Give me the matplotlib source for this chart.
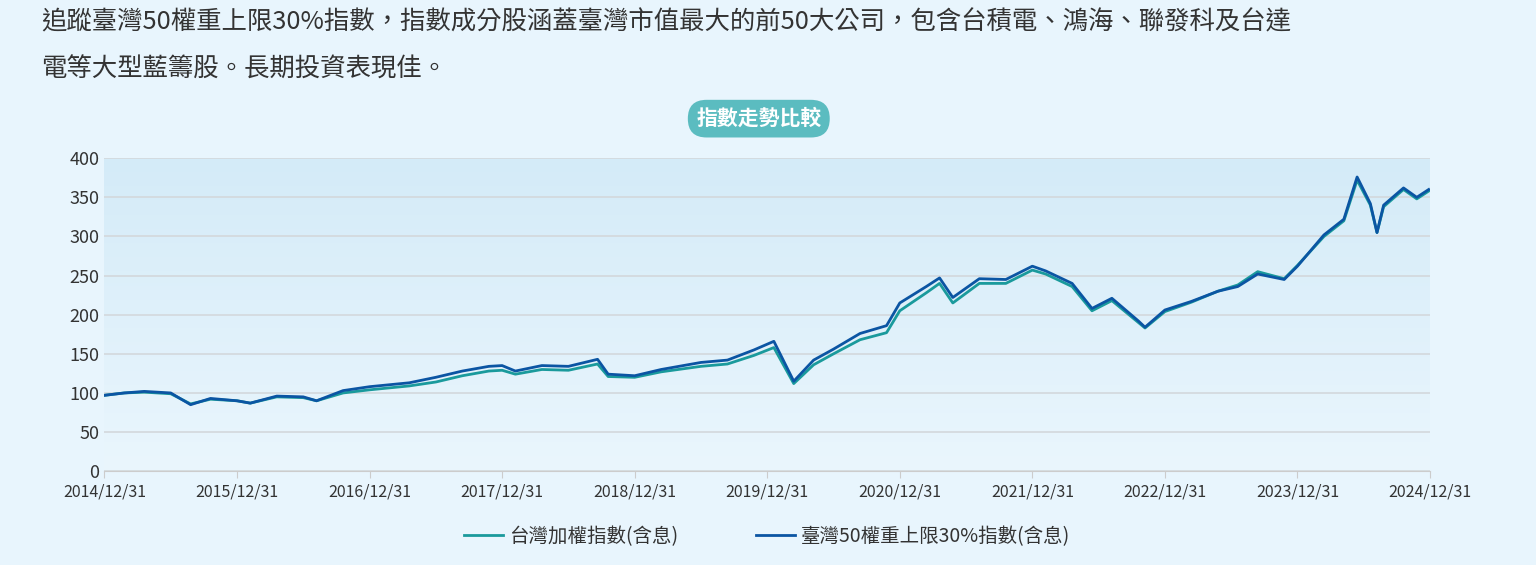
import numpy as np
import matplotlib.pyplot as plt

plt.rcParams['font.family'] = ['Noto Sans CJK TC', 'DejaVu Sans']

# 時間(年) 與 兩條指數
years = [2015.0, 2015.15, 2015.3, 2015.5, 2015.65, 2015.8, 2016.0, 2016.1, 2016.3, 2016.5,
         2016.6, 2016.8, 2017.0, 2017.3, 2017.5, 2017.7, 2017.9, 2018.0, 2018.1, 2018.3,
         2018.5, 2018.72, 2018.8, 2019.0, 2019.2, 2019.5, 2019.7, 2019.9, 2020.05, 2020.2,
         2020.35, 2020.5, 2020.7, 2020.9, 2021.0, 2021.2, 2021.3, 2021.4, 2021.6, 2021.8,
         2022.0, 2022.1, 2022.3, 2022.45, 2022.6, 2022.8, 2022.85, 2023.0, 2023.2, 2023.4,
         2023.55, 2023.7, 2023.9, 2024.0, 2024.2, 2024.35, 2024.45, 2024.55, 2024.6, 2024.65,
         2024.8, 2024.9, 2024.99]
tw50 = [97, 100, 102, 100, 85, 93, 90, 87, 96, 95,
        90, 103, 108, 113, 120, 128, 134, 135, 128, 135,
        134, 143, 124, 122, 130, 139, 142, 155, 166, 115,
        142, 156, 176, 186, 215, 236, 247, 222, 246, 245,
        262, 256, 240, 208, 221, 192, 184, 206, 217, 230,
        236, 252, 245, 262, 302, 322, 376, 342, 305, 340,
        362, 350, 360]
taiex = [97, 100, 101, 99, 86, 92, 90, 87, 95, 94,
         90, 100, 104, 109, 114, 122, 128, 129, 124, 130,
         129, 137, 121, 120, 127, 134, 137, 148, 158, 112,
         136, 150, 168, 177, 205, 228, 240, 215, 240, 240,
         257, 252, 236, 205, 218, 190, 183, 204, 216, 230,
         238, 255, 246, 263, 300, 320, 372, 340, 305, 338,
         360, 348, 358]
xticks = list(range(2015, 2026))
xlabels = [f'{y - 1}/12/31' for y in xticks]

bg = '#e8f5fd'
fig = plt.figure(figsize=(15.36, 5.65), dpi=100, facecolor=bg)
ax = fig.add_axes([0.068, 0.166, 0.863, 0.554])
ax.set_facecolor(bg)

# 漸層背景
grad = np.linspace(0, 1, 256).reshape(-1, 1)
ax.imshow(grad, extent=[2015, 2025, 0, 400], aspect='auto', origin='lower',
          cmap=plt.matplotlib.colors.LinearSegmentedColormap.from_list('g', ['#eaf6fd', '#d4ebf8']),
          zorder=0)

ax.plot(years, taiex, color='#1a9a9c', lw=2, label='台灣加權指數(含息)', zorder=3)
ax.plot(years, tw50, color='#0b55a3', lw=2, label='臺灣50權重上限30%指數(含息)', zorder=4)

ax.set_xlim(2015, 2025)
ax.set_ylim(0, 400)
ax.set_yticks(range(0, 401, 50))
ax.set_xticks(xticks)
ax.set_xticklabels(xlabels)
ax.tick_params(axis='y', length=0, labelsize=13, colors='#333333')
ax.tick_params(axis='x', length=5, color='#cccccc', labelsize=11.5, colors='#333333')
ax.grid(axis='y', color='#d3d8dc', lw=1.2)
for s in ['top', 'right', 'left']:
    ax.spines[s].set_visible(False)
ax.spines['bottom'].set_color('#cccccc')

ax.legend(loc='upper center', bbox_to_anchor=(0.5, -0.12), ncol=2, frameon=False,
          fontsize=14, handlelength=2.0, handletextpad=0.3, columnspacing=4, labelcolor='#333333')

fig.text(0.027, 0.96, '追蹤臺灣50權重上限30%指數，指數成分股涵蓋臺灣市值最大的前50大公司，包含台積電、鴻海、聯發科及台達',
         fontsize=18.3, color='#333333', va='center')
fig.text(0.027, 0.876, '電等大型藍籌股。長期投資表現佳。', fontsize=18.3, color='#333333', va='center')
fig.text(0.494, 0.79, '指數走勢比較', fontsize=15, color='white', weight='bold', ha='center', va='center',
         bbox=dict(boxstyle='round,pad=0.4,rounding_size=0.9', fc='#5bbcc0', ec='none'))

fig.savefig('out.png', dpi=100, facecolor=bg)
